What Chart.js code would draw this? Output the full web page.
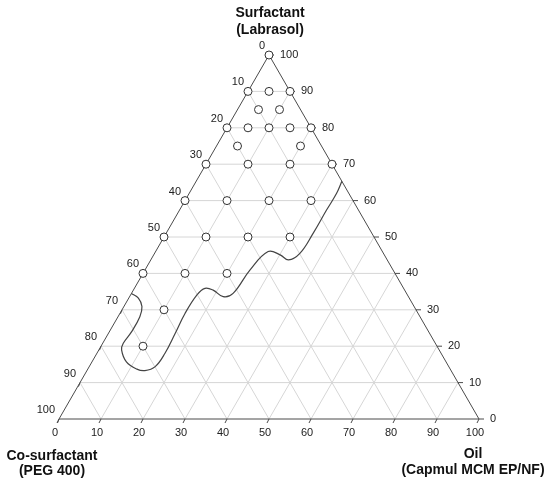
<!DOCTYPE html>
<html lang="en">
<head>
  <meta charset="UTF-8">
  <title>Ternary phase diagram</title>
  <style>
    body { margin: 0; background: #fff; }
    #wrap { width: 550px; height: 486px; position: relative; }
  </style>
</head>
<body>
  <div id="wrap"><canvas id="ternaryChart"></canvas></div>
  <script src="https://cdn.jsdelivr.net/npm/chart.js"></script>
  <script>
    // Componentes (vértices) do diagrama
    var vertexNames = ['Surfactant', '(Labrasol)', 'Co-surfactant', '(PEG 400)', 'Oil', '(Capmul MCM EP/NF)'];
    var tickValues = [0, 10, 20, 30, 40, 50, 60, 70, 80, 90, 100];

    // Formulações testadas (% surfactant, % oil); co-surfactant = 100 - S - O
    var pointSurfactant = [100, 90, 90, 90, 85, 85, 80, 80, 80, 80, 80, 75, 75,
                           70, 70, 70, 70, 60, 60, 60, 60, 50, 50, 50, 50, 40, 40, 40, 30, 20];
    var pointOil        = [0, 0, 5, 10, 5, 10, 0, 5, 10, 15, 20, 5, 20,
                           0, 10, 20, 30, 0, 10, 20, 30, 0, 10, 20, 30, 0, 10, 20, 10, 10];

    // Limite da região de microemulsão
    var boundarySurfactant = [34.5, 33.2, 30.9, 28.1, 24.0, 20.8, 19.0, 15.7, 13.7, 13.3, 14.4, 18.0, 23.5, 29.0,
                              34.1, 35.9, 35.4, 33.6, 34.5, 40.9, 46.0, 45.1, 43.7, 45.5, 51.0, 57.4, 62.0, 65.3];
    var boundaryOil        = [0, 2.3, 4.3, 5.2, 5.3, 4.9, 5.4, 8.2, 11.7, 13.8, 15.7, 16.2, 15.9, 15.5,
                              15.8, 16.8, 19.0, 22.3, 24.2, 25.0, 26.8, 30.1, 32.8, 34.6, 35.0, 35.0, 35.1, 34.7];

    var H = Math.sqrt(3) / 2;
    function toXY(oil, surf) {
      return { x: oil + surf / 2, y: surf * H };
    }

    var formulations = pointOil.map(function (o, i) { return toXY(o, pointSurfactant[i]); });
    var boundary = boundaryOil.map(function (o, i) { return toXY(o, boundarySurfactant[i]); });

    var ternaryAxes = {
      id: 'ternaryAxes',
      beforeDatasetsDraw: function (chart) {
        var ctx = chart.ctx, xs = chart.scales.x, ys = chart.scales.y;
        function P(o, s) {
          var p = toXY(o, s);
          return [xs.getPixelForValue(p.x), ys.getPixelForValue(p.y)];
        }
        function line(a, b) {
          ctx.beginPath(); ctx.moveTo(a[0], a[1]); ctx.lineTo(b[0], b[1]); ctx.stroke();
        }
        ctx.save();
        // grade
        ctx.strokeStyle = '#d6d6d6';
        ctx.lineWidth = 1;
        tickValues.slice(1, -1).forEach(function (k) {
          line(P(0, k), P(100 - k, k));       // surfactant constante
          line(P(k, 0), P(k, 100 - k));       // oil constante
          line(P(0, 100 - k), P(100 - k, 0)); // co-surfactant constante
        });
        // bordas
        ctx.strokeStyle = '#4a4a4a';
        ctx.beginPath();
        var a = P(0, 100), b = P(0, 0), c = P(100, 0);
        ctx.moveTo(a[0], a[1]); ctx.lineTo(b[0], b[1]); ctx.lineTo(c[0], c[1]); ctx.closePath();
        ctx.stroke();
        // marcas e rótulos
        ctx.font = '11px "Liberation Sans", Arial, sans-serif';
        ctx.fillStyle = '#222';
        tickValues.forEach(function (k) {
          // eixo esquerdo: co-surfactant
          var l = P(0, 100 - k);
          line(l, [l[0] - 1.5, l[1] + 4]);
          ctx.textAlign = 'right'; ctx.textBaseline = 'middle';
          ctx.fillText(String(k), l[0] - 4, l[1] - 9);
          // eixo inferior: oil
          var d = P(k, 0);
          line(d, [d[0] - 2, d[1] + 4]);
          ctx.textAlign = 'center'; ctx.textBaseline = 'middle';
          ctx.fillText(String(k), d[0] - 4, d[1] + 14);
          // eixo direito: surfactant
          var r = P(100 - k, k);
          line(r, [r[0] + 5, r[1]]);
          ctx.textAlign = 'left'; ctx.textBaseline = 'middle';
          ctx.fillText(String(k), r[0] + 11, r[1]);
        });
        // títulos dos vértices
        ctx.font = 'bold 14px "Liberation Sans", Arial, sans-serif';
        ctx.fillStyle = '#111';
        ctx.textAlign = 'center'; ctx.textBaseline = 'middle';
        ctx.fillText(vertexNames[0], 270, 13);
        ctx.fillText(vertexNames[1], 270, 30);
        ctx.fillText(vertexNames[2], 52, 456);
        ctx.fillText(vertexNames[3], 52, 471);
        ctx.fillText(vertexNames[4], 473, 454);
        ctx.fillText(vertexNames[5], 473, 470);
        ctx.restore();
      }
    };

    var ternaryCtx = document.getElementById('ternaryChart').getContext('2d');
    var ternaryChart = new Chart(ternaryCtx, {
      type: 'scatter',
      data: {
        datasets: [{
          label: 'Formulações',
          data: formulations,
          pointRadius: 4,
          pointBackgroundColor: '#fff',
          pointBorderColor: '#333',
          pointBorderWidth: 1,
          clip: false,
          order: 1
        }, {
          label: 'Região',
          data: boundary,
          showLine: true,
          tension: 0.4,
          pointRadius: 0,
          borderColor: '#444',
          borderWidth: 1.2,
          fill: false,
          clip: false,
          order: 2
        }]
      },
      options: {
        responsive: true,
        maintainAspectRatio: false,
        animation: false,
        layout: { padding: { left: 59, right: 71, top: 55, bottom: 67 } },
        plugins: { legend: { display: false }, tooltip: { enabled: false } },
        scales: {
          x: { type: 'linear', min: 0, max: 100, display: false },
          y: { type: 'linear', min: 0, max: 100 * H, display: false }
        }
      },
      plugins: [ternaryAxes]
    });
  </script>
</body>
</html>
